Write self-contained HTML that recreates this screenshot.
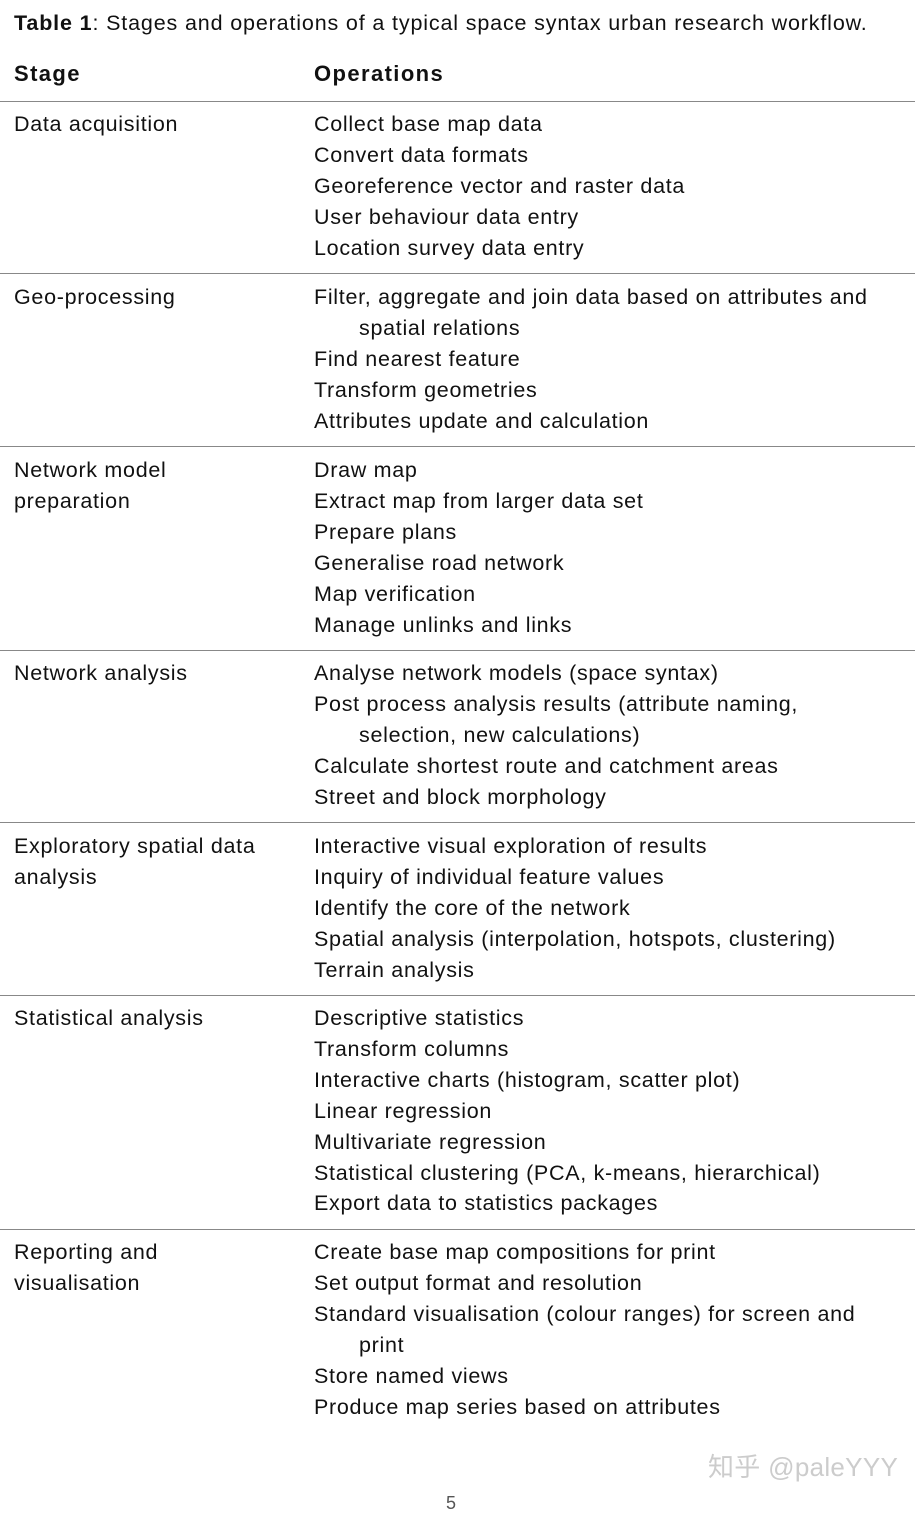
<!DOCTYPE html>
<html><head><meta charset="utf-8"><style>
body{margin:0;width:922px;height:1509px;background:#fff;position:relative;overflow:hidden;font-family:"Liberation Sans",Arial,sans-serif;color:#111;font-size:21.5px;letter-spacing:0.7px}
.t{position:absolute;white-space:nowrap;line-height:31px}
.h{position:absolute;left:0;width:915px;height:1px;background:#888}
.c{position:absolute;left:314px;line-height:30.9px;white-space:nowrap}
.c .i{padding-left:45px}
.s{position:absolute;left:14px;line-height:30.9px;white-space:nowrap}
</style></head><body>
<div class="t" style="left:14px;top:8px;font-size:21.5px;letter-spacing:0.85px"><b>Table 1</b>: Stages and operations of a typical space syntax urban research workflow.</div>
<div class="t" style="left:14px;top:58px;font-weight:bold;font-size:22px;letter-spacing:1.4px">Stage</div>
<div class="t" style="left:314px;top:58px;font-weight:bold;font-size:22px;letter-spacing:1.4px">Operations</div>
<div class="h" style="top:101px"></div>

<div class="s" style="top:109px">Data acquisition</div>
<div class="c" style="top:109px">Collect base map data<br>Convert data formats<br>Georeference vector and raster data<br>User behaviour data entry<br>Location survey data entry</div>
<div class="h" style="top:273px"></div>

<div class="s" style="top:282px">Geo-processing</div>
<div class="c" style="top:282px">Filter, aggregate and join data based on attributes and<br><span class="i">spatial relations</span><br>Find nearest feature<br>Transform geometries<br>Attributes update and calculation</div>
<div class="h" style="top:446px"></div>

<div class="s" style="top:455px">Network model<br>preparation</div>
<div class="c" style="top:455px">Draw map<br>Extract map from larger data set<br>Prepare plans<br>Generalise road network<br>Map verification<br>Manage unlinks and links</div>
<div class="h" style="top:650px"></div>

<div class="s" style="top:658px">Network analysis</div>
<div class="c" style="top:658px">Analyse network models (space syntax)<br>Post process analysis results (attribute naming,<br><span class="i">selection, new calculations)</span><br>Calculate shortest route and catchment areas<br>Street and block morphology</div>
<div class="h" style="top:822px"></div>

<div class="s" style="top:831px">Exploratory spatial data<br>analysis</div>
<div class="c" style="top:831px">Interactive visual exploration of results<br>Inquiry of individual feature values<br>Identify the core of the network<br>Spatial analysis (interpolation, hotspots, clustering)<br>Terrain analysis</div>
<div class="h" style="top:995px"></div>

<div class="s" style="top:1003px">Statistical analysis</div>
<div class="c" style="top:1003px">Descriptive statistics<br>Transform columns<br>Interactive charts (histogram, scatter plot)<br>Linear regression<br>Multivariate regression<br>Statistical clustering (PCA, k-means, hierarchical)<br>Export data to statistics packages</div>
<div class="h" style="top:1229px"></div>

<div class="s" style="top:1237px">Reporting and<br>visualisation</div>
<div class="c" style="top:1237px">Create base map compositions for print<br>Set output format and resolution<br>Standard visualisation (colour ranges) for screen and<br><span class="i">print</span><br>Store named views<br>Produce map series based on attributes</div>

<div class="t" style="left:708px;top:1452px;font-size:26px;letter-spacing:0.3px;color:#ccc;font-family:'Liberation Sans','Noto Sans CJK SC',sans-serif">知乎 @paleYYY</div>
<div class="t" style="left:446px;top:1488px;font-size:18px;color:#555">5</div>
</body></html>
